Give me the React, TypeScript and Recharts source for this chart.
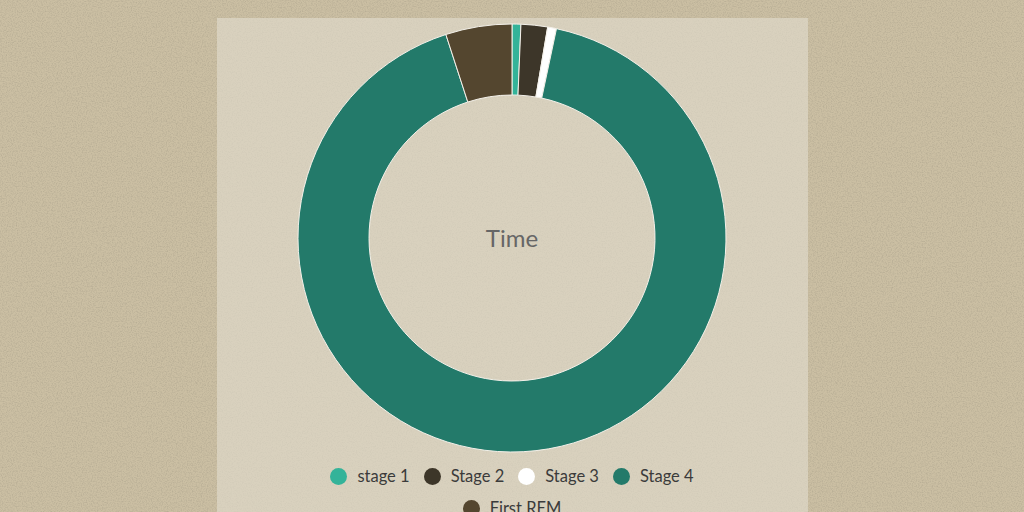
import React from "react";
import { PieChart, Pie, Cell, Legend } from "recharts";

const stages = ["stage 1", "Stage 2", "Stage 3", "Stage 4", "First REM"];
const times = [2, 6, 2, 275, 15];
const colors = ["#34b399", "#3d3629", "#ffffff", "#237a6a", "#54462f"];
const centerLabel = "Time";

const data = stages.map((name, i) => ({ name, value: times[i] }));

const FONT = "'Lato', 'Noto Sans', sans-serif";

const renderLegend = () => {
  return (
    <div
      style={{
        width: 440,
        margin: "0 auto",
        display: "flex",
        flexWrap: "wrap",
        justifyContent: "center",
        fontFamily: FONT,
        fontSize: 16.5,
        color: "#3b3b3b",
        rowGap: 12,
      }}
    >
      {stages.map((name, i) => (
        <div key={name} style={{ display: "flex", alignItems: "center", margin: "0 7px" }}>
          <span
            style={{
              display: "inline-block",
              width: 17,
              height: 17,
              borderRadius: "50%",
              background: colors[i],
              marginRight: 10,
            }}
          />
          <span>{name}</span>
        </div>
      ))}
    </div>
  );
};

export default function App() {
  return (
    <div
      style={{
        position: "absolute",
        left: 0,
        top: 0,
        width: 1024,
        height: 512,
        overflow: "hidden",
        background: "#c8bca0",
      }}
    >
      <svg width={1024} height={512} style={{ position: "absolute", left: 0, top: 0 }}>
        <defs>
          <filter id="noise" x="0" y="0" width="100%" height="100%">
            <feTurbulence type="fractalNoise" baseFrequency="0.8" numOctaves="3" seed="3" />
            <feColorMatrix type="matrix" values="0 0 0 0 0.3  0 0 0 0 0.27  0 0 0 0 0.2  0 0 0 1.4 -0.55" />
          </filter>
        </defs>
        <rect x={0} y={0} width={1024} height={512} fill="#cbbfa3" />
        <rect x={0} y={0} width={1024} height={512} filter="url(#noise)" opacity={0.5} />
        <rect x={217} y={18} width={591} height={494} fill="#e2ddd1" opacity={0.6} />
      </svg>
      <div style={{ position: "absolute", left: 0, top: 0 }}>
        <PieChart width={1024} height={512} margin={{ top: 0, right: 0, bottom: 0, left: 0 }}>
          <Pie
            data={data}
            dataKey="value"
            nameKey="name"
            cx={512}
            cy={238}
            innerRadius={143}
            outerRadius={214}
            startAngle={90}
            endAngle={-270}
            stroke="#f4f1ea"
            strokeWidth={1}
            isAnimationActive={false}
          >
            {data.map((d, i) => (
              <Cell key={d.name} fill={colors[i]} />
            ))}
          </Pie>
          <text
            x={512}
            y={237}
            textAnchor="middle"
            dominantBaseline="central"
            fontFamily={FONT}
            fontSize={24}
            fill="#666666"
          >
            {centerLabel}
          </text>
          <Legend
            verticalAlign="bottom"
            content={renderLegend}
            wrapperStyle={{ top: 466, left: 0, width: 1024 }}
          />
        </PieChart>
      </div>
    </div>
  );
}
